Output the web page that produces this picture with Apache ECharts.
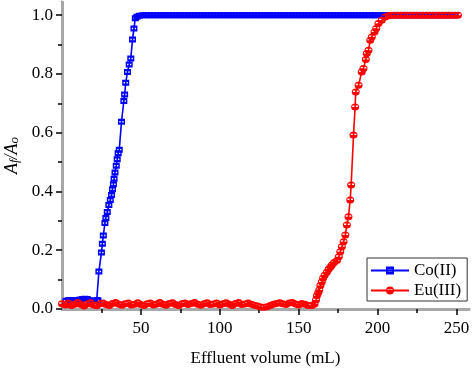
<!DOCTYPE html>
<html>
<head>
<meta charset="utf-8">
<script src="https://cdn.jsdelivr.net/npm/echarts@6/dist/echarts.min.js"></script>
<style>
html,body{margin:0;padding:0;background:#fff;}
#c{width:474px;height:369px;}
</style>
</head>
<body>
<div id="c"></div>
<script>
// ---- data ----
const seriesNames = ['Co(II)', 'Eu(III)'];
const xTickLabels = [50, 100, 150, 200, 250];
const xMinorTicks = [25, 75, 125, 175, 225];
const yTickLabels = [0, 0.2, 0.4, 0.6, 0.8, 1.0];
const yMinorTicks = [0.1, 0.3, 0.5, 0.7, 0.9];

const coX = [2.5,4,5.5,7,8.5,10,11.5,13,14.5,16,17.5,19,20.5,22,22.8,
  23.4,25.0,25.6,26.2,27.2,27.8,28.7,29.7,30.6,31.4,32.0,32.6,33.0,33.6,34.4,35.0,35.6,36.3,37.7,39.2,39.7,40.4,41.5,42.6,43.6,44.7,45.6,46.5,47.5,49,
  51,53,55,57,59,61,63,65,67,69,71,73,75,77,79,81,83,85,87,89,
  91,93,95,97,99,101,103,105,107,109,111,113,115,117,119,121,123,125,127,129,
  131,133,135,137,139,141,143,145,147,149,151,153,155,157,159,161,163,165,167,169,
  171,173,175,177,179,181,183,185,187,189,191,193,195,197,199,201,203,205,207,209,
  211,213,215,217,219,221,223,225,227,229,231,233,235,237,239,241,243,245,247,249];
const coY = [0.028,0.030,0.030,0.028,0.030,0.031,0.032,0.034,0.035,0.034,0.030,0.026,0.028,0.030,0.030,
  0.128,0.192,0.222,0.250,0.293,0.310,0.330,0.354,0.371,0.388,0.408,0.425,0.443,0.465,0.488,0.510,0.530,0.542,0.637,0.708,0.730,0.770,0.807,0.832,0.853,0.917,0.955,0.990,0.995,0.998,
  1,1,1,1,1,1,1,1,1,1,1,1,1,1,1,1,1,1,1,1,
  1,1,1,1,1,1,1,1,1,1,1,1,1,1,1,1,1,1,1,1,
  1,1,1,1,1,1,1,1,1,1,1,1,1,1,1,1,1,1,1,1,
  1,1,1,1,1,1,1,1,1,1,1,1,1,1,1,1,1,1,1,1,
  1,1,1,1,1,1,1,1,1,1,1,1,1,1,1,1,1,1,1,1];

const euX = [0,2,4,6,8,10,12,14,16,18,
  20,22,24,26,28,30,32,34,36,38,
  40,42,44,46,48,50,52,54,56,58,
  60,62,64,66,68,70,72,74,76,78,
  80,82,84,86,88,90,92,94,96,98,
  100,102,104,106,108,110,112,114,116,118,
  120,122,124,126,128,130,132,134,136,138,
  140,142,144,146,148,150,152,154,156,
  158.5,160.1,161.0,161.6,162.4,163.1,163.8,164.7,165.5,166.5,167.9,169.0,170.2,171.1,172.5,174.3,175.5,176.4,177.4,178.5,
  179.6,180.6,181.6,182.7,183.3,184.8,185.8,186.2,188.0,190.0,191.1,192.6,193.2,194.3,195.4,196.4,198.1,199.2,200.6,202.7,204.9,207,
  209,211,213,215,217,219,221,223,225,227,229,231,233,235,237,239,241,243,245,247,249,251];
const euY = [0.018,0.014,0.020,0.012,0.016,0.022,0.015,0.010,0.017,0.021,
  0.014,0.011,0.018,0.020,0.015,0.012,0.019,0.022,0.016,0.013,
  0.018,0.020,0.014,0.016,0.021,0.015,0.012,0.018,0.020,0.014,
  0.017,0.022,0.016,0.013,0.019,0.021,0.015,0.012,0.018,0.020,
  0.015,0.019,0.022,0.016,0.013,0.018,0.021,0.015,0.017,0.020,
  0.014,0.018,0.021,0.016,0.012,0.019,0.022,0.015,0.017,0.020,
  0.016,0.013,0.010,0.007,0.006,0.008,0.012,0.016,0.019,0.021,
  0.018,0.015,0.020,0.022,0.017,0.014,0.019,0.016,0.012,
  0.012,0.017,0.031,0.045,0.055,0.065,0.080,0.092,0.105,0.115,0.125,0.135,0.143,0.150,0.158,0.165,0.178,0.195,0.212,0.229,
  0.252,0.286,0.314,0.371,0.422,0.592,0.688,0.739,0.762,0.807,0.819,0.849,0.870,0.881,0.915,0.926,0.943,0.955,0.972,0.983,0.994,0.998,
  1,1,1,1,1,1,1,1,1,1,1,1,1,1,1,1,1,1,1,1,1,1];

// ---- chart ----
const FONT = 'Liberation Serif';
const BLUE = '#0000ff';
const RED = '#ff0000';
const X_MIN = 0, X_MAX = 258, Y_MIN = 0, Y_MAX = 1.045;
// marker shapes with a white slit (outer clockwise, inner counter-clockwise => hole)
const SQUARE_SLIT = 'path://M-10,-8 L10,-8 L10,8 L-10,8 Z M-6,-2 L-6,2 L6,2 L6,-2 Z';
const CIRCLE_SLIT = 'path://M0,-10 A10,10 0 1,1 0,10 A10,10 0 1,1 0,-10 Z M-7,-4 L-7,0 L7,0 L7,-4 Z';

const pairs = (xs, ys) => xs.map((x, i) => [x, ys[i]]);

const chart = echarts.init(document.getElementById('c'), null, {renderer: 'canvas'});
chart.setOption({
  animation: false,
  backgroundColor: '#fff',
  grid: {left: 62, right: 5, top: 2, bottom: 60, containLabel: false, outerBoundsMode: 'none'},
  legend: {
    data: seriesNames,
    orient: 'vertical',
    left: 367, top: 258,
    itemWidth: 38, itemHeight: 10, itemGap: 3,
    padding: [4, 6, 2, 3],
    borderColor: '#333', borderWidth: 1,
    textStyle: {fontFamily: FONT, fontSize: 17, color: '#000'}
  },
  xAxis: [
    {
      type: 'value', min: X_MIN, max: X_MAX, position: 'bottom',
      name: 'Effluent volume (mL)', nameLocation: 'middle', nameGap: 41,
      nameTextStyle: {fontFamily: FONT, fontSize: 17, color: '#000'},
      axisLine: {show: true, lineStyle: {color: '#000', width: 2}},
      axisTick: {show: true, length: 6, lineStyle: {color: '#000', width: 1.5}, customValues: xTickLabels},
      axisLabel: {show: true, margin: 11, fontFamily: FONT, fontSize: 17, color: '#000', customValues: xTickLabels},
      splitLine: {show: false}
    },
    {
      type: 'value', min: X_MIN, max: X_MAX, position: 'bottom',
      axisLine: {show: false},
      axisTick: {show: true, length: 4, lineStyle: {color: '#000', width: 1.5}, customValues: xMinorTicks},
      axisLabel: {show: false},
      splitLine: {show: false}
    },
    {
      type: 'value', min: X_MIN, max: X_MAX, position: 'top',
      axisLine: {show: true, lineStyle: {color: '#a8a8a8', width: 3}},
      axisTick: {show: false}, axisLabel: {show: false}, splitLine: {show: false}
    }
  ],
  yAxis: [
    {
      type: 'value', min: Y_MIN, max: Y_MAX, position: 'left',
      name: '{i|A}{s|f}{i|/A}{s|o}', nameLocation: 'middle', nameGap: 39, nameRotate: 90,
      nameTextStyle: {
        fontFamily: FONT, fontSize: 18, color: '#000',
        rich: {
          i: {fontFamily: FONT, fontSize: 18, fontStyle: 'italic', color: '#000', lineHeight: 21, verticalAlign: 'bottom'},
          s: {fontFamily: FONT, fontSize: 13, fontStyle: 'italic', color: '#000', lineHeight: 21, verticalAlign: 'bottom', padding: [8, 0, 0, 0]}
        }
      },
      axisLine: {show: true, lineStyle: {color: '#000', width: 2}},
      axisTick: {show: true, length: 6, lineStyle: {color: '#000', width: 1.5}, customValues: yTickLabels},
      axisLabel: {show: true, margin: 9, fontFamily: FONT, fontSize: 17, color: '#000', customValues: yTickLabels,
        formatter: v => v.toFixed(1)},
      splitLine: {show: false}
    },
    {
      type: 'value', min: Y_MIN, max: Y_MAX, position: 'left',
      axisLine: {show: false},
      axisTick: {show: true, length: 4, lineStyle: {color: '#000', width: 1.5}, customValues: yMinorTicks},
      axisLabel: {show: false},
      splitLine: {show: false}
    },
    {
      type: 'value', min: Y_MIN, max: Y_MAX, position: 'right',
      axisLine: {show: true, lineStyle: {color: '#a8a8a8', width: 3}},
      axisTick: {show: false}, axisLabel: {show: false}, splitLine: {show: false}
    }
  ],
  series: [
    {
      name: seriesNames[0], type: 'line', xAxisIndex: 0, yAxisIndex: 0,
      data: pairs(coX, coY),
      symbol: SQUARE_SLIT, symbolSize: [7, 6],
      lineStyle: {color: BLUE, width: 1.6},
      itemStyle: {color: BLUE, borderWidth: 0},
      emphasis: {disabled: true}
    },
    {
      name: seriesNames[1], type: 'line', xAxisIndex: 0, yAxisIndex: 0,
      data: pairs(euX, euY),
      symbol: CIRCLE_SLIT, symbolSize: [8, 7],
      lineStyle: {color: RED, width: 1.6},
      itemStyle: {color: RED, borderWidth: 0},
      emphasis: {disabled: true}
    }
  ]
});
</script>
</body>
</html>
